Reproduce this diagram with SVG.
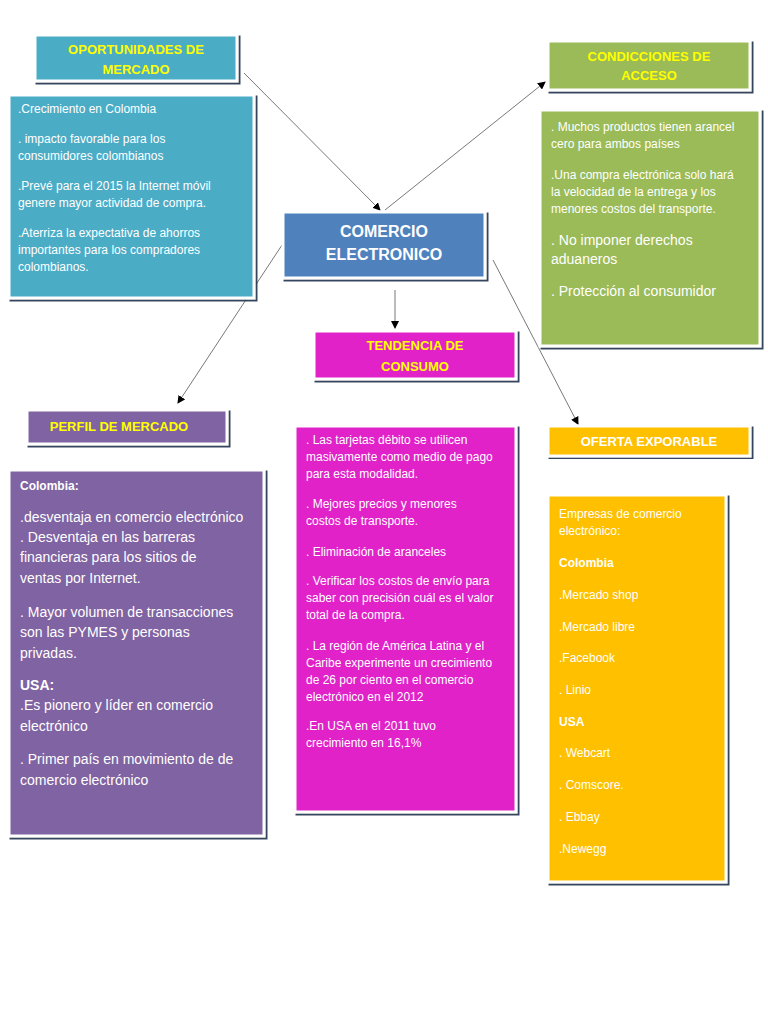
<svg xmlns="http://www.w3.org/2000/svg" width="768" height="1024" viewBox="0 0 768 1024">
<style>
.b{stroke:#fff;stroke-width:3;filter:url(#sh)}
.t{font-family:"Liberation Sans",Arial,sans-serif;font-weight:bold;font-size:13px;fill:#ffff00;text-anchor:middle}
.w{font-family:"Liberation Sans",Arial,sans-serif;font-size:12px;fill:#fff}
.wl{font-family:"Liberation Sans",Arial,sans-serif;font-size:14px;fill:#fff}
.c{stroke:#555;stroke-width:0.8;fill:none;marker-end:url(#a)}
</style>
<defs>
<filter id="sh" x="-5%" y="-5%" width="115%" height="115%"><feDropShadow dx="2" dy="2" stdDeviation="0.5" flood-color="#1f3050" flood-opacity="0.9"/></filter>
<marker id="a" markerWidth="8" markerHeight="8" refX="7" refY="4" orient="auto" markerUnits="userSpaceOnUse"><path d="M0,0 L8,4 L0,8 z" fill="#000"/></marker>
</defs>
<rect width="768" height="1024" fill="#fff"/>
<g id="connectors">
<line class="c" x1="244" y1="73" x2="380" y2="210"/>
<line class="c" x1="385" y1="210" x2="545" y2="82"/>
<line class="c" x1="395" y1="290" x2="395" y2="328"/>
<line class="c" x1="282" y1="245" x2="178" y2="403"/>
<line class="c" x1="493" y1="260" x2="578" y2="424"/>
</g>
<g id="oportunidades">
<rect class="b" x="35" y="35" width="202" height="46" fill="#4bacc6"/>
<text class="t" x="136" y="54">OPORTUNIDADES  DE</text>
<text class="t" x="136" y="74">MERCADO</text>
</g>
<g id="oportunidades-body">
<rect class="b" x="9" y="95" width="245" height="203" fill="#4bacc6"/>
<text class="w" x="18" y="113">.Crecimiento en Colombia</text>
<text class="w" x="18" y="143">. impacto favorable para los</text>
<text class="w" x="18" y="160">consumidores colombianos</text>
<text class="w" x="18" y="190">.Prevé para el 2015 la Internet móvil</text>
<text class="w" x="18" y="207">genere mayor actividad de compra.</text>
<text class="w" x="18" y="237">.Aterriza la expectativa de ahorros</text>
<text class="w" x="18" y="254">importantes para los compradores</text>
<text class="w" x="18" y="271">colombianos.</text>
</g>
<g id="condicciones">
<rect class="b" x="548" y="41" width="202" height="49" fill="#9bbb59"/>
<text class="t" x="649" y="61">CONDICCIONES DE</text>
<text class="t" x="649" y="80">ACCESO</text>
</g>
<g id="condicciones-body">
<rect class="b" x="540" y="110" width="220" height="236" fill="#9bbb59"/>
<text class="w" x="551" y="131">. Muchos productos tienen arancel</text>
<text class="w" x="551" y="148">cero para ambos países</text>
<text class="w" x="551" y="179">.Una compra electrónica  solo hará</text>
<text class="w" x="551" y="196">la velocidad de la entrega y los</text>
<text class="w" x="551" y="213">menores costos del transporte.</text>
<text class="wl" x="551" y="245">. No imponer derechos</text>
<text class="wl" x="551" y="264">aduaneros</text>
<text class="wl" x="551" y="296">. Protección al consumidor</text>
</g>
<g id="comercio">
<rect class="b" x="283" y="212" width="202" height="66" fill="#4f81bd"/>
<text class="t" x="384" y="237" style="fill:#fff;font-size:16px">COMERCIO</text>
<text class="t" x="384" y="260" style="fill:#fff;font-size:16px">ELECTRONICO</text>
</g>
<g id="tendencia">
<rect class="b" x="314" y="331" width="202" height="48" fill="#e024c8"/>
<text class="t" x="415" y="350">TENDENCIA DE</text>
<text class="t" x="415" y="371">CONSUMO</text>
</g>
<g id="tendencia-body">
<rect class="b" x="295" y="426" width="221" height="386" fill="#e024c8"/>
<text class="w" x="306" y="444">.  Las tarjetas débito se utilicen</text>
<text class="w" x="306" y="461">masivamente como medio de pago</text>
<text class="w" x="306" y="478">para esta modalidad.</text>
<text class="w" x="306" y="508">. Mejores precios y menores</text>
<text class="w" x="306" y="525">costos de transporte.</text>
<text class="w" x="306" y="556">. Eliminación de aranceles</text>
<text class="w" x="306" y="585">. Verificar los costos de envío para</text>
<text class="w" x="306" y="602">saber con precisión cuál es el valor</text>
<text class="w" x="306" y="619">total de la compra.</text>
<text class="w" x="306" y="650">. La región de América Latina y el</text>
<text class="w" x="306" y="667">Caribe experimente un crecimiento</text>
<text class="w" x="306" y="684">de 26 por ciento en el comercio</text>
<text class="w" x="306" y="701">electrónico en el 2012</text>
<text class="w" x="306" y="730">.En USA en el 2011 tuvo</text>
<text class="w" x="306" y="747">crecimiento en 16,1%</text>
</g>
<g id="perfil">
<rect class="b" x="27" y="410" width="200" height="34" fill="#8064a2"/>
<text class="t" x="119" y="431">PERFIL DE MERCADO</text>
</g>
<g id="perfil-body">
<rect class="b" x="9" y="470" width="255" height="366" fill="#8064a2"/>
<text class="w" x="20" y="490" style="font-weight:bold">Colombia:</text>
<text class="wl" x="20" y="522">.desventaja en comercio electrónico</text>
<text class="wl" x="20" y="542">. Desventaja en las barreras</text>
<text class="wl" x="20" y="562">financieras para los sitios de</text>
<text class="wl" x="20" y="583">ventas por Internet.</text>
<text class="wl" x="20" y="617">. Mayor volumen de transacciones</text>
<text class="wl" x="20" y="637">son las PYMES y personas</text>
<text class="wl" x="20" y="658">privadas.</text>
<text class="wl" x="20" y="690" style="font-weight:bold">USA:</text>
<text class="wl" x="20" y="710">.Es pionero y líder en comercio</text>
<text class="wl" x="20" y="731">electrónico</text>
<text class="wl" x="20" y="764">. Primer país en movimiento de de</text>
<text class="wl" x="20" y="785">comercio electrónico</text>
</g>
<g id="oferta">
<rect class="b" x="548" y="426" width="202" height="30" fill="#ffc000"/>
<text class="t" x="649" y="446" style="fill:#fff">OFERTA EXPORABLE</text>
</g>
<g id="oferta-body">
<rect class="b" x="548" y="495" width="178" height="387" fill="#ffc000"/>
<text class="w" x="559" y="518">Empresas de comercio</text>
<text class="w" x="559" y="535">electrónico:</text>
<text class="w" x="559" y="567" style="font-weight:bold">Colombia</text>
<text class="w" x="559" y="599">.Mercado shop</text>
<text class="w" x="559" y="631">.Mercado libre</text>
<text class="w" x="559" y="662">.Facebook</text>
<text class="w" x="559" y="694">. Linio</text>
<text class="w" x="559" y="726" style="font-weight:bold">USA</text>
<text class="w" x="559" y="757">. Webcart</text>
<text class="w" x="559" y="789">. Comscore.</text>
<text class="w" x="559" y="821">. Ebbay</text>
<text class="w" x="559" y="853">.Newegg</text>
</g>
</svg>
